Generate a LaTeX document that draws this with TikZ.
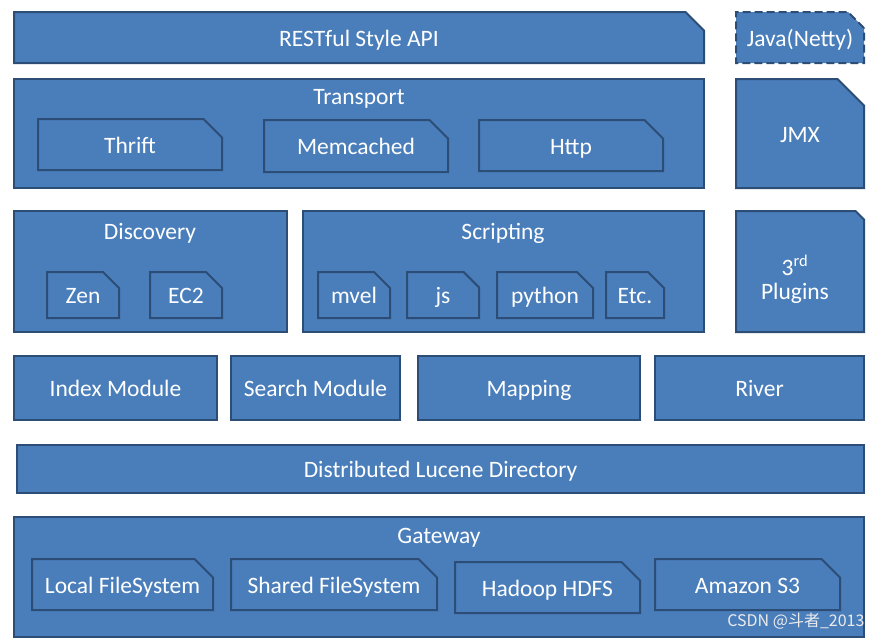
\documentclass[tikz,border=0pt]{standalone}
\usepackage{fontspec}
\setmainfont{Carlito}
\newfontfamily\cjk{Noto Sans CJK SC}
\usetikzlibrary{shapes.misc}
\definecolor{bfill}{HTML}{4A7EBB}
\definecolor{bline}{HTML}{2C4D75}
\begin{document}
\begin{tikzpicture}[x=1pt,y=-1pt,
  box/.style={draw=bline,line width=2pt,fill=bfill,text=white,inner sep=0pt,outer sep=0pt,
    font=\fontsize{23.5}{27}\selectfont,text height=17pt,text depth=0pt},
  sn/.style={chamfered rectangle,chamfered rectangle corners=north east,chamfered rectangle xsep=#1,chamfered rectangle ysep=#1},
  lbl/.style={text=white,font=\fontsize{23.5}{27}\selectfont}]
\useasboundingbox (0,0) rectangle (883,641);
\newcommand{\bx}[7]{\node[box,#6,minimum width={#3-#1},minimum height={#4-#2}] (#5) at ({(#1+#3)/2},{(#2+#4)/2}) {#7};}
\bx{14}{12}{704}{63}{rest}{sn=10pt}{RESTful Style API}
\bx{736}{12}{864}{63}{java}{sn=8pt,dashed,dash pattern=on 8pt off 4pt}{Java(Netty)}
\bx{14}{79}{704}{188}{transport}{rectangle}{}
\node[lbl] (tl) at (359,99) {Transport};
\bx{38}{119}{222}{170}{thrift}{sn=10pt}{Thrift}
\bx{264}{120}{448}{172}{memc}{sn=10pt}{Memcached}
\bx{479}{120}{663}{171}{http}{sn=10pt}{Http}
\bx{736}{79}{864}{188}{jmx}{sn=18pt}{JMX}
\bx{14}{211}{287}{332}{disc}{rectangle}{}
\node[lbl] (dl) at (150,233) {Discovery};
\bx{47}{272}{119}{318}{zen}{sn=8pt}{Zen}
\bx{150}{272}{222}{318}{ec2}{sn=8pt}{EC2}
\bx{303}{211}{704}{332}{scr}{rectangle}{}
\node[lbl] (sl) at (503,233) {Scripting};
\bx{318}{272}{390}{318}{mvel}{sn=8pt}{mvel}
\bx{407}{272}{479}{318}{js}{sn=8pt}{js}
\bx{497}{272}{593}{318}{py}{sn=8pt}{python}
\bx{606}{272}{664}{318}{etc}{sn=8pt}{Etc.}
\bx{736}{211}{864}{332}{plug}{sn=18pt}{}
\node[lbl,align=center] (pl) at (795,279) {3\textsuperscript{rd}\\[-3pt]Plugins};
\bx{14}{356}{217}{420}{idx}{rectangle}{Index Module}
\bx{231}{356}{400}{420}{srch}{rectangle}{Search Module}
\bx{418}{356}{640}{420}{map}{rectangle}{Mapping}
\bx{655}{356}{864}{420}{river}{rectangle}{River}
\bx{17}{445}{864}{493}{dld}{rectangle}{Distributed Lucene Directory}
\bx{14}{517}{864}{637}{gw}{rectangle}{}
\node[lbl] (gl) at (439,538) {Gateway};
\bx{32}{559}{213}{610}{lfs}{sn=10pt}{Local FileSystem}
\bx{231}{559}{437}{610}{sfs}{sn=10pt}{Shared FileSystem}
\bx{455}{562}{640}{613}{hdfs}{sn=10pt}{Hadoop HDFS}
\bx{655}{559}{840}{610}{s3}{sn=10pt}{Amazon S3}
\node[text=white!85!gray,font=\fontsize{16}{18}\selectfont\cjk,anchor=east] (wm) at (868,621) {CSDN @斗者\_2013};
\end{tikzpicture}
\end{document}
